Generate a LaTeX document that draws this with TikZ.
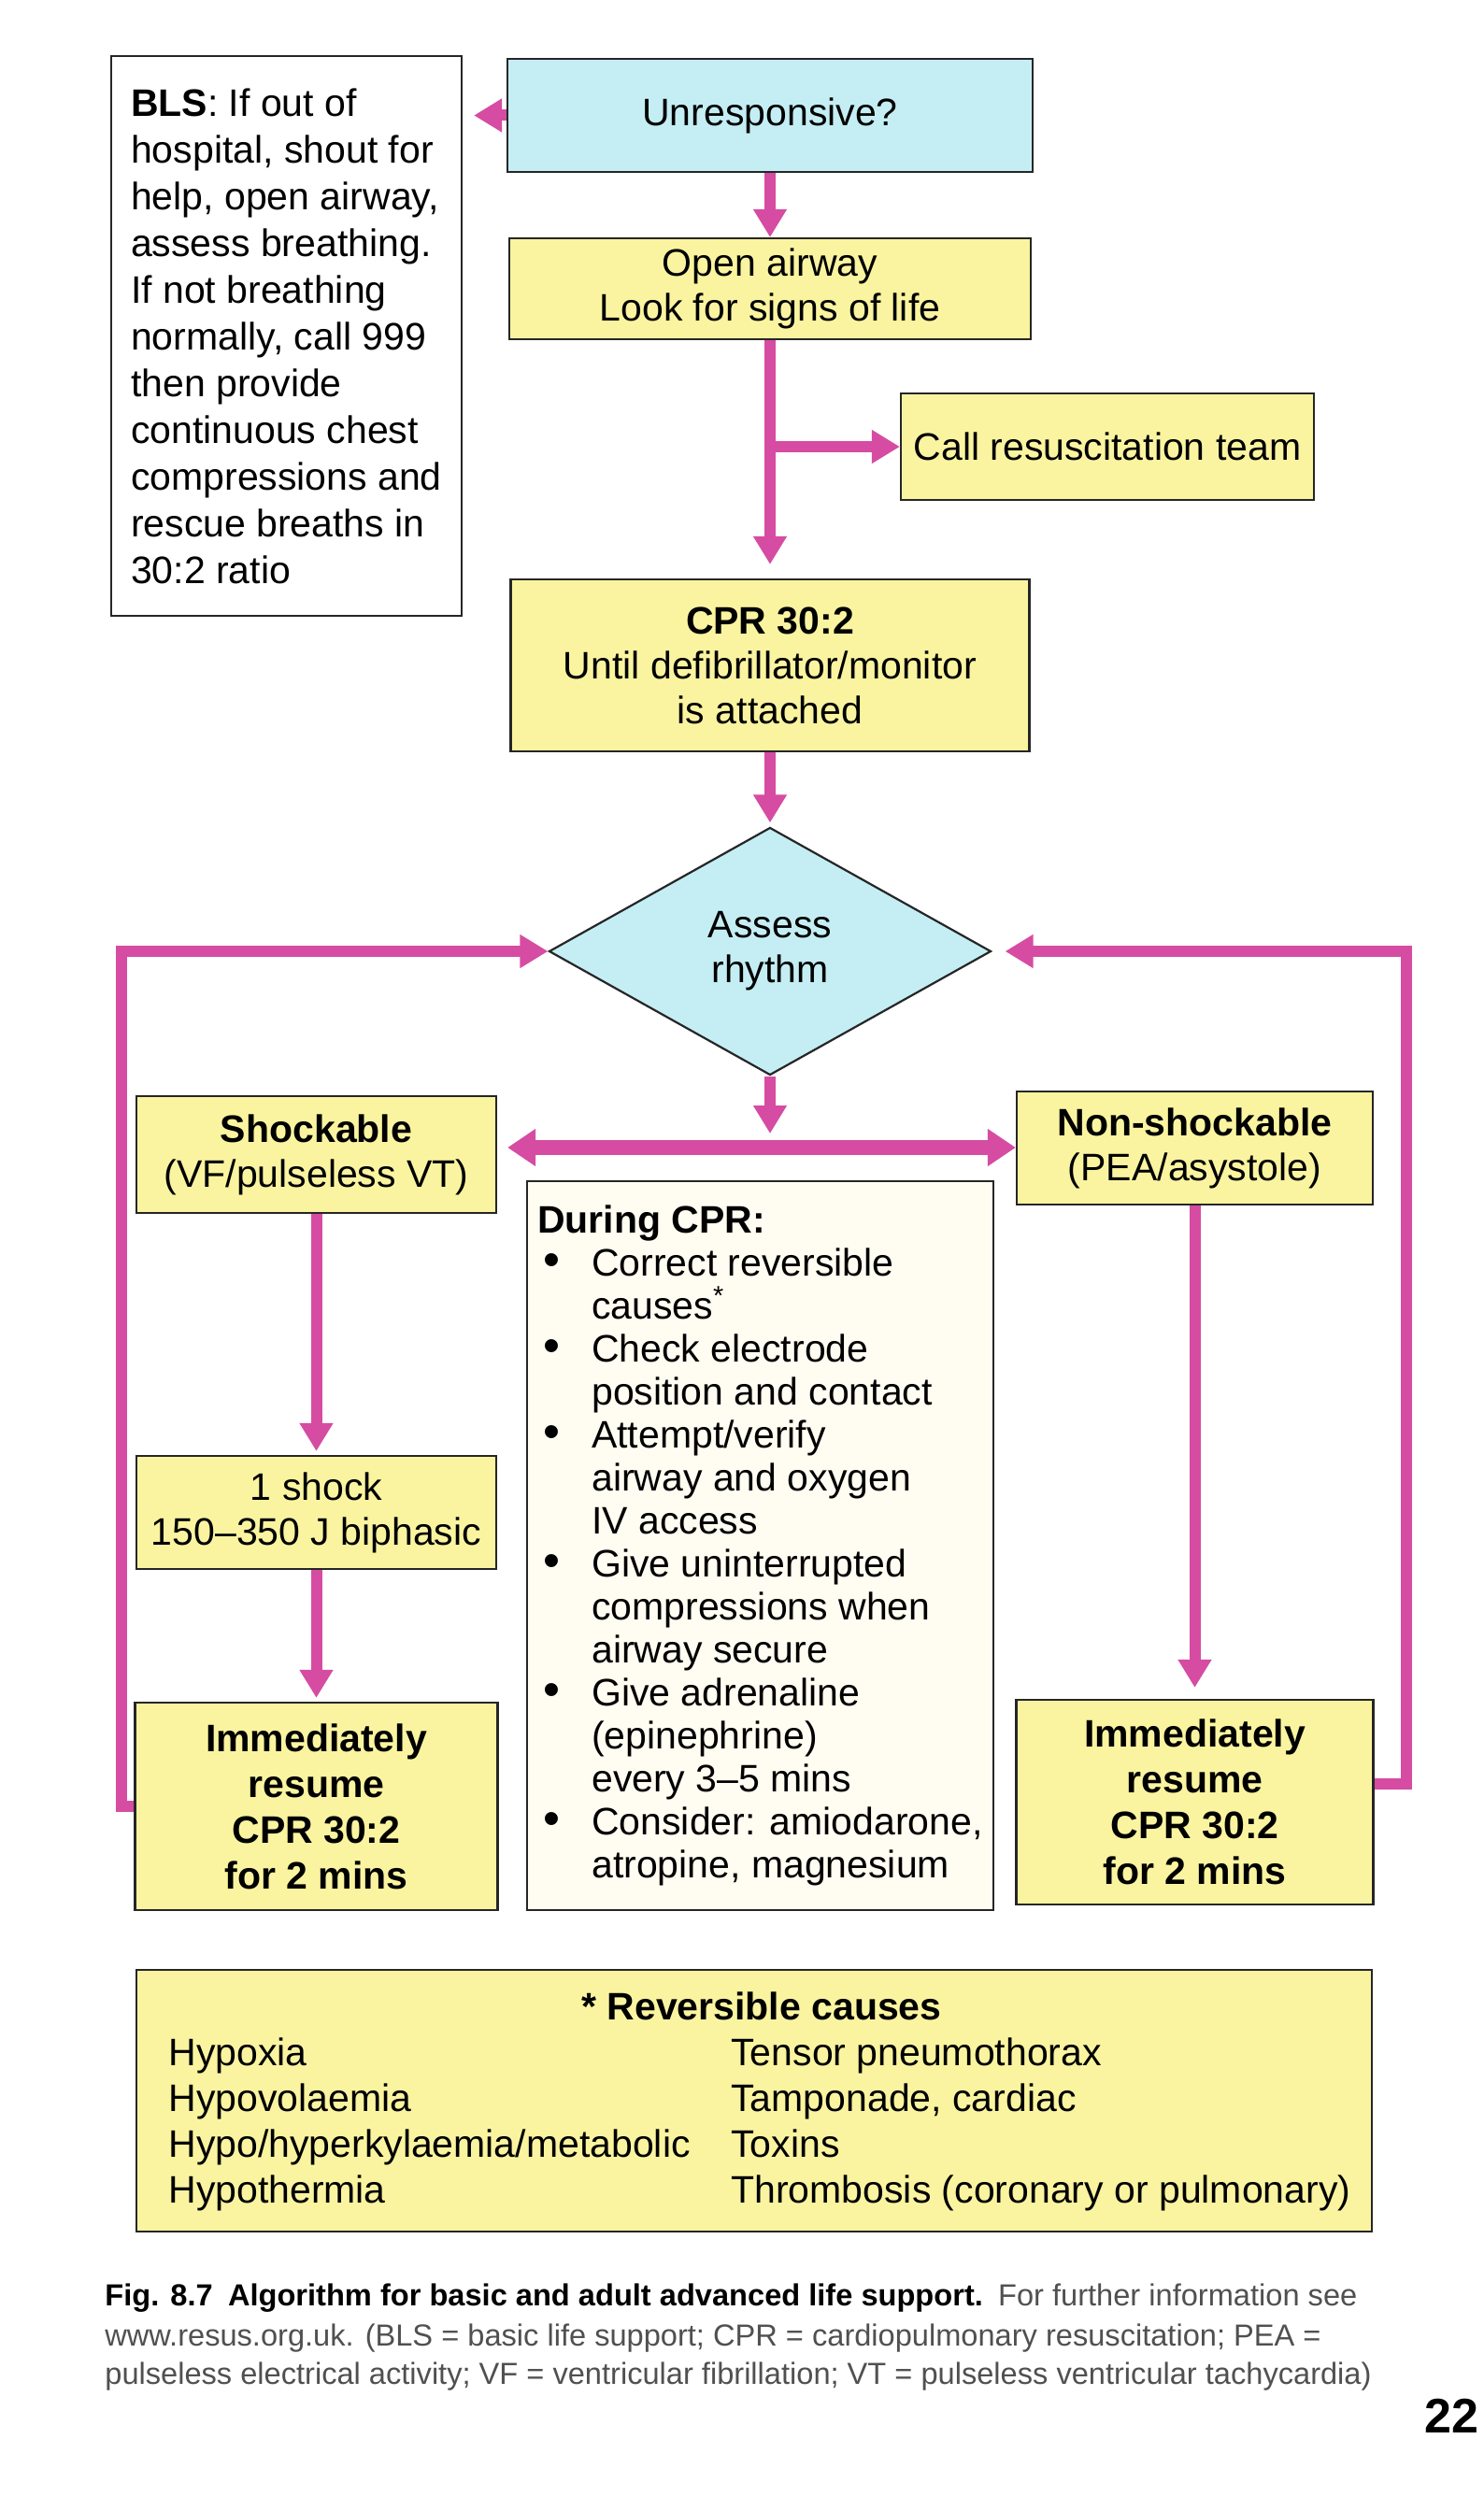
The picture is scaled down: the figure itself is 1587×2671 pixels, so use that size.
\documentclass[tikz,border=0pt]{standalone}
\usepackage{fontspec}
\setmainfont{Liberation Sans}
\usetikzlibrary{arrows.meta,shapes.geometric,calc}
\definecolor{boxyellow}{RGB}{250,244,160}
\definecolor{boxcyan}{RGB}{196,238,244}
\definecolor{arrowpink}{RGB}{214,76,162}
\definecolor{boxcream}{RGB}{255,253,242}
\definecolor{capgray}{RGB}{80,80,80}
\newcommand{\bul}{\makebox[29pt][l]{\hspace{3pt}\scalebox{1.25}{\textbullet}}}
\newcommand{\ind}{\hspace*{29pt}}
\begin{document}
\begin{tikzpicture}[x=0.5pt,y=-0.5pt,
  every node/.style={font=\fontsize{20.5}{24}\selectfont, text=black},
  box/.style={draw=black!85, line width=1.1pt, align=center, inner sep=0pt},
  ybox/.style={box, fill=boxyellow},
  cbox/.style={box, fill=boxcyan},
  boldbox/.style={ybox, font=\fontsize{20.5}{24.5}\selectfont\bfseries},
  conn/.style={draw=arrowpink, line width=6pt, -{Triangle[width=17pt,length=15pt]}},
  dconn/.style={draw=arrowpink, line width=8pt, {Triangle[width=19pt,length=15pt]}-{Triangle[width=19pt,length=15pt]}},
  plain/.style={inner sep=0pt, anchor=base west},
  captxt/.style={plain, font=\fontsize{16.3}{21.5}\selectfont},
]
\useasboundingbox[fill=white] (0,0) rectangle (1587,2671);

% boxes
\node[box, fill=white, minimum width=187.5pt, minimum height=299.5pt, align=left,
      font=\fontsize{20.5}{25}\selectfont] (bls) at (306.5,359.5)
  {\textbf{BLS}: If out of\\hospital, shout for\\help, open airway,\\assess breathing.\\If not breathing\\normally, call 999\\then provide\\continuous chest\\compressions and\\rescue breaths in\\30:2 ratio};
\node[cbox, minimum width=281pt, minimum height=60.5pt] (unresp) at (824,123.5) {Unresponsive?};
\node[ybox, minimum width=279pt, minimum height=54pt] (open) at (824,309) {Open airway\\Look for signs of life};
\node[ybox, minimum width=221pt, minimum height=57pt] (call) at (1185,478) {Call resuscitation team};
\node[ybox, minimum width=277.5pt, minimum height=92pt] (cpr) at (824,712) {\textbf{CPR 30:2}\\Until defibrillator/monitor\\is attached};
\node[cbox, diamond, minimum width=236.5pt, minimum height=132.5pt] (assess) at (824,1018) {Assess\\rhythm};
\node[ybox, minimum width=192.5pt, minimum height=62.5pt] (shock) at (338.5,1235.5) {\textbf{Shockable}\\(VF/pulseless VT)};
\node[ybox, minimum width=190.5pt, minimum height=60.5pt] (nonshock) at (1278.5,1228.5) {\textbf{Non-shockable}\\(PEA/asystole)};
\node[box, fill=boxcream, minimum width=249.5pt, minimum height=390pt, align=left,
      font=\fontsize{20.5}{23}\selectfont] (during) at (813.5,1654)
  {\textbf{During CPR:}\\
   \bul Correct reversible\\\ind causes\textsuperscript{*}\\
   \bul Check electrode\\\ind position and contact\\
   \bul Attempt/verify\\\ind airway and oxygen\\\ind IV access\\
   \bul Give uninterrupted\\\ind compressions when\\\ind airway secure\\
   \bul Give adrenaline\\\ind (epinephrine)\\\ind every 3–5 mins\\
   \bul Consider: amiodarone,\\\ind atropine, magnesium};
\node[ybox, minimum width=192.5pt, minimum height=60.5pt] (oneshock) at (338.5,1618.5) {1 shock\\150–350 J biphasic};
\node[boldbox, minimum width=194pt, minimum height=111pt] (immL) at (338.5,1933) {Immediately\\resume\\CPR 30:2\\for 2 mins};
\node[boldbox, minimum width=191pt, minimum height=109.5pt] (immR) at (1278.5,1928.5) {Immediately\\resume\\CPR 30:2\\for 2 mins};

% reversible causes
\node[ybox, minimum width=661pt, minimum height=140pt] (rev) at (807,2248) {};
\node[inner sep=0pt, anchor=base, font=\fontsize{20.5}{24}\selectfont\bfseries] (revtitle) at (815,2161) {* Reversible causes};
\node[plain] (revl1) at (180,2210) {Hypoxia};
\node[plain] (revl2) at (180,2259) {Hypovolaemia};
\node[plain] (revl3) at (180,2308) {Hypo/hyperkylaemia/metabolic};
\node[plain] (revl4) at (180,2357) {Hypothermia};
\node[plain] (revr1) at (782,2210) {Tensor pneumothorax};
\node[plain] (revr2) at (782,2259) {Tamponade, cardiac};
\node[plain] (revr3) at (782,2308) {Toxins};
\node[plain] (revr4) at (782,2357) {Thrombosis (coronary or pulmonary)};

% connectors
\coordinate (split) at (824,1213);
\coordinate (mid) at (824,1228);
\coordinate (loopL) at (130,1018);
\coordinate (loopR) at (1505,1018);
\draw[conn, shorten >=6pt] (unresp.west) -- (unresp.west -| bls.east);
\draw[conn] (unresp.south) -- (open.north);
\draw[conn, shorten >=7.5pt] (open.south) -- (cpr.north);
\draw[conn] (open.south |- call.west) -- (call.west);
\draw[conn, shorten >=2pt] (cpr.south) -- (assess.north);
\draw[conn] (assess.south) -- (split);
\draw[dconn, shorten <=5.5pt] (shock.east |- mid) -- (nonshock.west |- mid);
\draw[conn, shorten >=2pt] (shock.south) -- (oneshock.north);
\draw[conn, shorten >=2pt] (oneshock.south) -- (immL.north);
\draw[conn, shorten >=6pt] (nonshock.south) -- (immR.north);
\draw[conn] (immL.west) -| (loopL) -- (assess.west);
\draw[conn, shorten >=7pt] ([yshift=10pt]immR.east) -| (loopR) -- (assess.east);

% caption
\node[captxt] (cap1) at (112,2467) {\textbf{Fig. 8.7\enspace Algorithm for basic and adult advanced life support.}\enspace\textcolor{capgray}{For further information see}};
\node[captxt, text=capgray] (cap2) at (112,2510) {www.resus.org.uk. (BLS = basic life support; CPR = cardiopulmonary resuscitation; PEA =};
\node[captxt, text=capgray] (cap3) at (112,2551) {pulseless electrical activity; VF = ventricular fibrillation; VT = pulseless ventricular tachycardia)};
\node[plain, font=\fontsize{26}{30}\selectfont\bfseries] (pagenum) at (1524,2603) {22};
\end{tikzpicture}
\end{document}
